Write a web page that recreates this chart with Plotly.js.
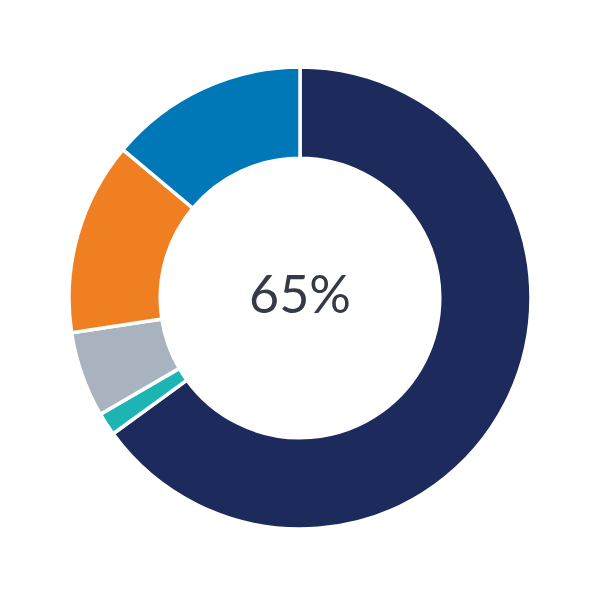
<!DOCTYPE html>
<html>
<head>
<meta charset="utf-8">
<script src="https://cdn.plot.ly/plotly-3.0.1.min.js"></script>
<style>html,body{margin:0;padding:0;background:#fff;}#chart{width:600px;height:599px;}</style>
</head>
<body>
<div id="chart"></div>
<script>
const labels = ["Navy", "Teal", "Gray", "Orange", "Blue"];
const values = [65, 1.6, 6, 13.5, 13.9];
const colors = ["#1c2b5b", "#1db5b4", "#a9b3c0", "#f07f21", "#0077b6"];
const centerText = "65%";

Plotly.newPlot("chart", [{
  type: "pie",
  labels: labels,
  values: values,
  sort: false,
  direction: "clockwise",
  rotation: 0,
  hole: 0.605,
  textinfo: "none",
  hoverinfo: "none",
  marker: {colors: colors, line: {color: "#ffffff", width: 3.5}}
}], {
  width: 600, height: 599,
  margin: {l: 68, r: 68, t: 67, b: 70},
  showlegend: false,
  paper_bgcolor: "#ffffff",
  annotations: [{
    text: centerText, x: 0.5, y: 0.5, xref: "paper", yref: "paper", yshift: 5,
    showarrow: false, font: {family: "Lato", size: 52, color: "#343a46"}
  }]
}, {displayModeBar: false, staticPlot: true});
</script>
</body>
</html>
